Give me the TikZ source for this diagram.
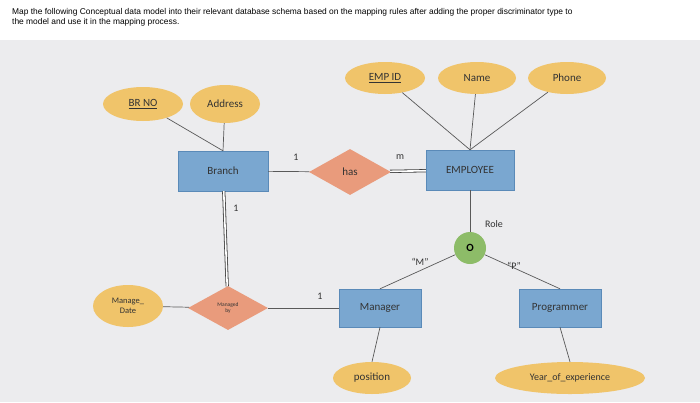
\documentclass[tikz,border=0pt]{standalone}
\usepackage{fontspec}
\setmainfont{Carlito}
\newfontfamily\hdrfont{Liberation Sans}
\usetikzlibrary{shapes.geometric}
\definecolor{ent}{HTML}{7AA7D0}
\definecolor{entd}{HTML}{5A8AB8}
\definecolor{att}{HTML}{F0C46A}
\definecolor{rel}{HTML}{E99B7C}
\definecolor{grn}{HTML}{8DBC68}
\definecolor{bg}{HTML}{ECECEE}
\begin{document}
\begin{tikzpicture}[x=1pt,y=-1pt,
  entity/.style={rectangle,fill=ent,draw=entd,line width=0.4pt,minimum width=#1,minimum height=38pt,font=\fontsize{11}{13}\selectfont,text=black!80},
  entity/.default=86pt,
  attr/.style={ellipse,fill=att,minimum width=#1,minimum height=32pt,inner sep=0pt,font=\fontsize{11}{13}\selectfont,text=black!80},
  attr/.default=78pt,
  relship/.style={diamond,aspect=1.8,fill=rel,inner sep=1pt,font=\fontsize{11}{13}\selectfont,text=black!80},
  ln/.style={draw=black!65,line width=0.7pt},
  dbl/.style={draw=black!75,double=white,double distance=1.6pt,line width=0.8pt},
  lbl/.style={font=\fontsize{10}{12}\selectfont,text=black!80}]
\useasboundingbox (0,0) rectangle (700,402);
\fill[bg] (0,0) rectangle (700,402);
\fill[white] (0,0) rectangle (700,40);
\node[anchor=north west,align=left,font=\fontsize{8.4}{10}\hdrfont,inner sep=0pt] (hdr) at (12,8)
 {Map the following Conceptual data model into their relevant database schema based on the mapping rules after adding the proper discriminator type to\\the model and use it in the mapping process.};
% attributes
\node[attr=80pt] (empid) at (385,78) {\underline{EMP ID}};
\node[attr] (name) at (477,78) {Name};
\node[attr] (phone) at (567,78) {Phone};
\node[attr=80pt,minimum height=34pt] (brno) at (143,104) {\underline{BR NO}};
\node[attr=70pt,minimum height=38pt] (addr) at (225,104) {Address};
% entities
\node[entity=90pt,minimum height=40pt] (branch) at (223,171) {Branch};
\node[entity=88pt,minimum height=40pt] (emp) at (470,170) {EMPLOYEE};
\node[entity=82pt] (mgr) at (380,308) {Manager};
\node[entity=82pt] (prog) at (560,308) {Programmer};
% relationships
\node[relship,minimum width=82pt,minimum height=46pt] (has) at (350,172) {has};
\node[relship,minimum width=80pt,minimum height=44pt,align=center,font=\fontsize{5.5}{6.5}\selectfont] (mby) at (228,308) {Managed\\by};
\node[attr=70pt,minimum height=42pt,align=center,font=\fontsize{8.5}{10.5}\selectfont] (mdate) at (128,306) {Manage\_\\Date};
\node[attr] (pos) at (372,378) {position};
\node[attr=150pt,font=\fontsize{10}{12}\selectfont] (yoe) at (570,378) {Year\_of\_experience};
\node[circle,fill=grn,minimum size=32pt,inner sep=0pt,font=\fontsize{11}{13}\selectfont\bfseries] (dis) at (470,248) {O};
% connectors
\draw[ln] (empid) -- (emp.north);
\draw[ln] (name) -- (emp.north);
\draw[ln] (phone) -- (emp.north);
\draw[ln] (brno) -- (branch.north);
\draw[ln] (addr) -- (branch.north);
\draw[ln] (branch) -- (has);
\draw[dbl] (has) -- (emp);
\draw[dbl] (branch) -- (mby);
\draw[ln] (mby) -- (mgr);
\draw[ln] (mdate) -- (mby);
\draw[ln] (emp) -- (dis);
\draw[ln] (dis) -- (mgr.north);
\draw[ln] (dis) -- (prog.north);
\draw[ln] (mgr.south) -- (pos.north);
\draw[ln] (prog.south) -- (yoe.north);
% labels
\node[lbl] (l1) at (296,157) {1};
\node[lbl] (lm) at (400,157) {m};
\node[lbl] (l2) at (236,208) {1};
\node[lbl] (l3) at (320,296) {1};
\node[lbl] (role) at (494,224) {Role};
\node[lbl] (lM) at (420,262) {``M''};
\node[lbl] (lP) at (514,266) {``P''};
\end{tikzpicture}
\end{document}
